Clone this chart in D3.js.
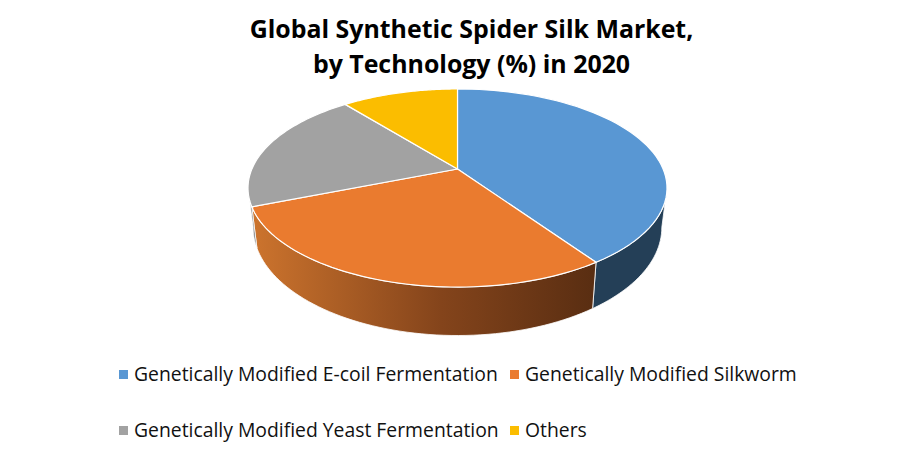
<!DOCTYPE html>
<html>
<head>
<meta charset="utf-8">
<script src="https://cdn.jsdelivr.net/npm/d3@7/dist/d3.min.js"></script>
<style>
  html, body { margin: 0; padding: 0; background: white; }
  svg { display: block; }
  text { fill: black; }
  .title { font-family: "Open Sans", sans-serif; font-weight: 700; font-size: 24.9px; text-anchor: middle; }
  .legend { font-family: "Open Sans", sans-serif; font-size: 19.35px; fill: #111; }
</style>
</head>
<body>
<div class="chart"></div>
<script>
const categories = [
  'Genetically Modified E-coil Fermentation',
  'Genetically Modified Silkworm',
  'Genetically Modified Yeast Fermentation',
  'Others'
];
const shares = [40.4, 28.6, 20.2, 10.8];
const colors = ['#5997d3', '#ea7b2f', '#a2a2a2', '#fbbd00'];
const titleLines = ['Global Synthetic Spider Silk Market,', 'by Technology (%) in 2020'];

const svg = d3.select('.chart')
    .append('svg')
        .attr('width', 920)
        .attr('height', 471);

const pie = d3.pie().sort(null).value(d => d)(shares);

// tilted pie: flat circle pushed through a perspective projection
const cx = 457.5;
const k = 0.192;
const project = (top, angle) => {
  const X = Math.sin(angle), Y = Math.cos(angle);
  const w = 1 + k * Y;
  return top
    ? [cx + 205.6 * X / w, 169 - 95.4 * Y / w]
    : [cx + 200.5 * X / w, 206.8 - 104 * Y / w];
};

const rim = (top, a0, a1) => d3.range(0, 61).map(i => project(top, a0 + (a1 - a0) * i / 60));
const line = d3.line();

// wall is only visible on the near side of the pie
const wallFrom = Math.PI - Math.acos(k);
const wallTo = Math.PI + Math.acos(k);

const defs = svg.append('defs');
const grad = defs.append('linearGradient')
    .attr('id', 'orangeWall')
    .attr('gradientUnits', 'userSpaceOnUse')
    .attr('x1', 256).attr('x2', 592).attr('y1', 0).attr('y2', 0);
grad.append('stop').attr('offset', 0).attr('stop-color', '#cb732d');
grad.append('stop').attr('offset', 0.55).attr('stop-color', '#84441b');
grad.append('stop').attr('offset', 1).attr('stop-color', '#5a2e12');

const wallFill = ['#243f57', 'url(#orangeWall)', '#6f6f6f', 'none'];

svg.append('g').selectAll('path')
    .data(pie)
    .enter()
    .append('path')
        .attr('d', d => {
          const a0 = Math.max(d.startAngle, wallFrom);
          const a1 = Math.min(d.endAngle, wallTo);
          if (a1 <= a0) return null;
          return line(rim(true, a0, a1).concat(rim(false, a0, a1).reverse())) + 'Z';
        })
        .attr('fill', (d, i) => wallFill[i])
        .attr('stroke', 'white')
        .attr('stroke-width', 0.8);

svg.append('g').selectAll('path')
    .data(pie)
    .enter()
    .append('path')
        .attr('d', d => line([[cx, 169]].concat(rim(true, d.startAngle, d.endAngle))) + 'Z')
        .attr('fill', (d, i) => colors[i])
        .attr('stroke', 'white')
        .attr('stroke-width', 1.2)
        .attr('stroke-linejoin', 'round');

svg.selectAll('.title')
    .data(titleLines)
    .enter()
    .append('text')
        .attr('class', 'title')
        .attr('x', 471.5)
        .attr('y', (d, i) => 38 + i * 35)
        .text(d => d);

// legend, two rows
const legendX = [119, 510, 119, 510];
const legendY = [374, 374, 430, 430];
const items = svg.selectAll('.item')
    .data(categories)
    .enter()
    .append('g')
        .attr('class', 'item')
        .attr('transform', (d, i) => 'translate(' + legendX[i] + ', ' + legendY[i] + ')');

items.append('rect')
    .attr('y', -4)
    .attr('width', 9)
    .attr('height', 9)
    .attr('fill', (d, i) => colors[i]);

items.append('text')
    .attr('class', 'legend')
    .attr('x', 15)
    .attr('y', 7)
    .text(d => d);
</script>
</body>
</html>
